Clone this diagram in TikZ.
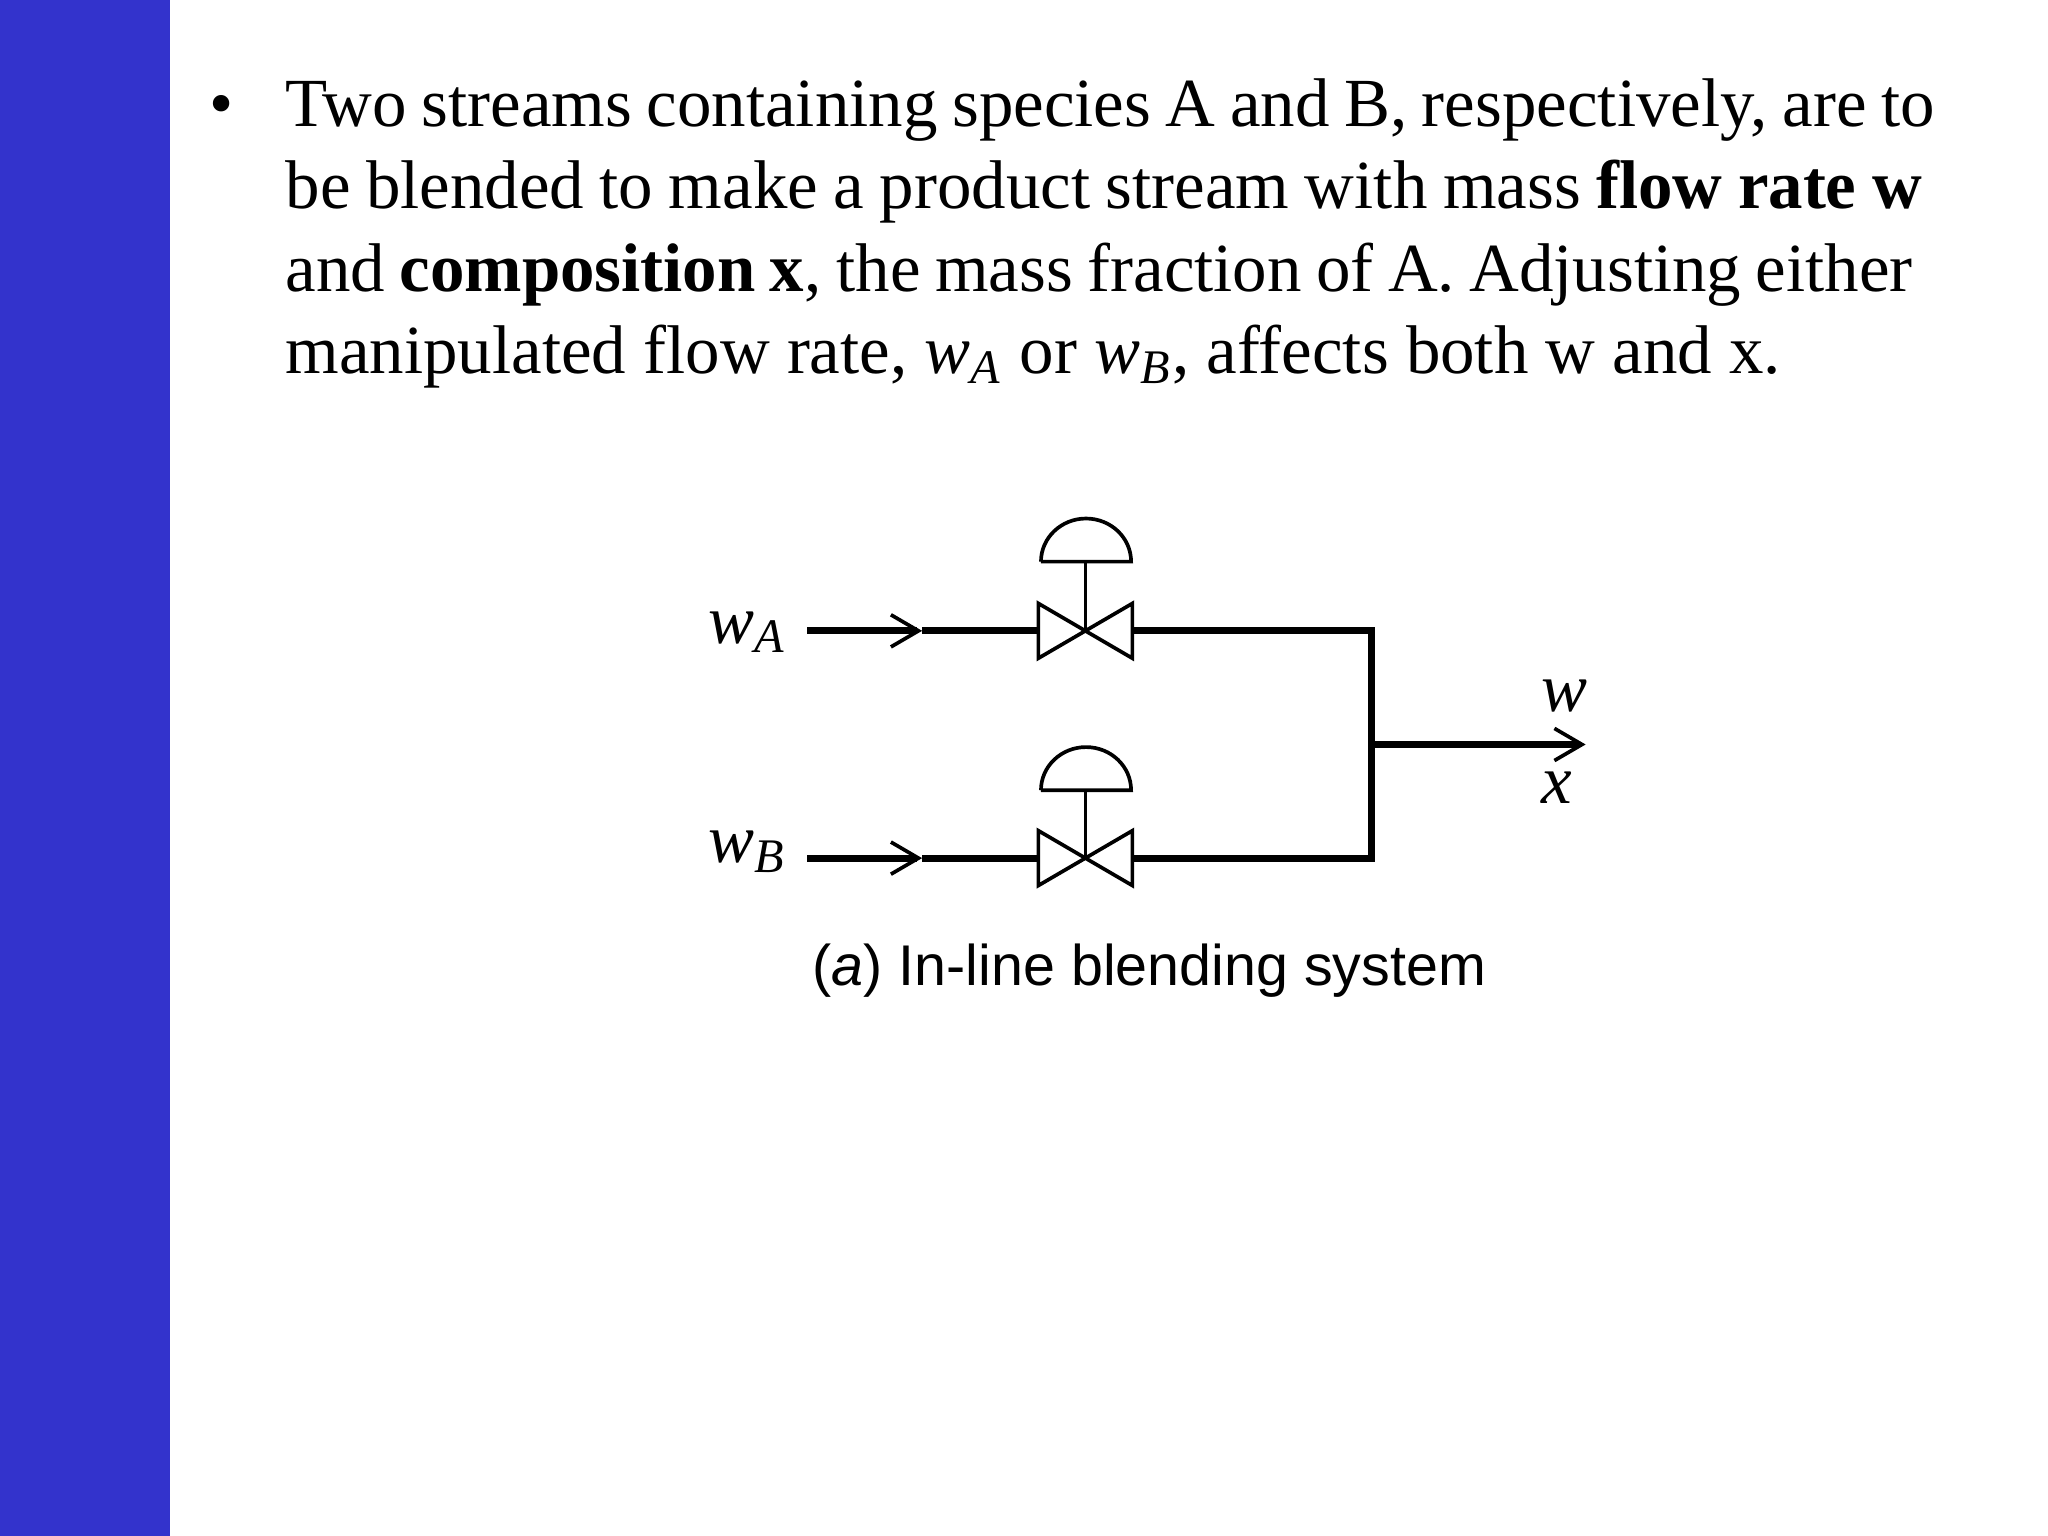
\documentclass[tikz,border=0pt]{standalone}
\usepackage{fontspec}
\setmainfont{Liberation Serif}
\setsansfont{Liberation Sans}
\usetikzlibrary{arrows.meta}
\newcommand{\wsub}[1]{\textit{w}\textsubscript{\textit{#1}}}
\begin{document}
\begin{tikzpicture}[x=0.01cm,y=-0.01cm,
  pipe/.style={line width=1.5pt},
  thin/.style={line width=0.8pt},
  flow/.style={pipe,-{Straight Barb[length=6pt,width=7pt,line width=0.8pt]}},
  txt/.style={anchor=base west,inner sep=0pt,font=\fontsize{15}{18}\selectfont},
  lbl/.style={font=\fontsize{15}{18}\selectfont\itshape}]
\useasboundingbox (0,0) rectangle (1568,1176);
\fill[fill={rgb,255:red,51;green,51;blue,204}] (0,0) rectangle (130,1176);
\node[txt] (bul) at (160,97) {\textbullet};
\node[txt] (l1) at (218,97) {\makebox[12.62cm][s]{Two streams containing species A and B, respectively, are to}};
\node[txt] (l2) at (218,160) {\makebox[12.52cm][s]{be blended to make a product stream with mass \textbf{flow rate w}}};
\node[txt] (l3) at (218,223) {\makebox[12.45cm][s]{and \textbf{composition x}, the mass fraction of A. Adjusting either}};
\node[txt] (l4) at (218,286) {manipulated flow rate, \wsub{A} or \wsub{B}, affects both w and x.};
% valves
\foreach \n/\y/\t in {A/483/430, B/657/605}{
  \coordinate (v\n) at (831,\y);
  \draw[thin] (795,\y-21) -- (867,\y+21) -- (867,\y-21) -- (795,\y+21) -- cycle;
  \draw[thin] (831,\y) -- (831,\t);
  \draw[thin] (797,\t) -- (866,\t) arc[start angle=0,end angle=180,x radius=34.5,y radius=-33];
  \coordinate (in\n) at (618,\y);
  \coordinate (m\n) at (706,\y);
  \draw[flow] (in\n) -- (m\n);
  \draw[pipe] (m\n) -- (795,\y);
}
\draw[pipe] (867,483) -- (1050,483) -- (1050,657) -- (867,657);
\coordinate (j) at (1050,570);
\coordinate (out) at (1214,570);
\draw[flow] (j) -- (out);
\node[lbl] (wa) at (572,484) {w\textsubscript{A}};
\node[lbl] (wb) at (572,652) {w\textsubscript{B}};
\node[lbl] (w) at (1198,533) {w};
\node[lbl] (x) at (1192,603) {x};
\node[font=\sffamily\fontsize{12.5}{15}\selectfont] (cap) at (880,743) {(\textit{a}) In-line blending system};
\end{tikzpicture}
\end{document}
